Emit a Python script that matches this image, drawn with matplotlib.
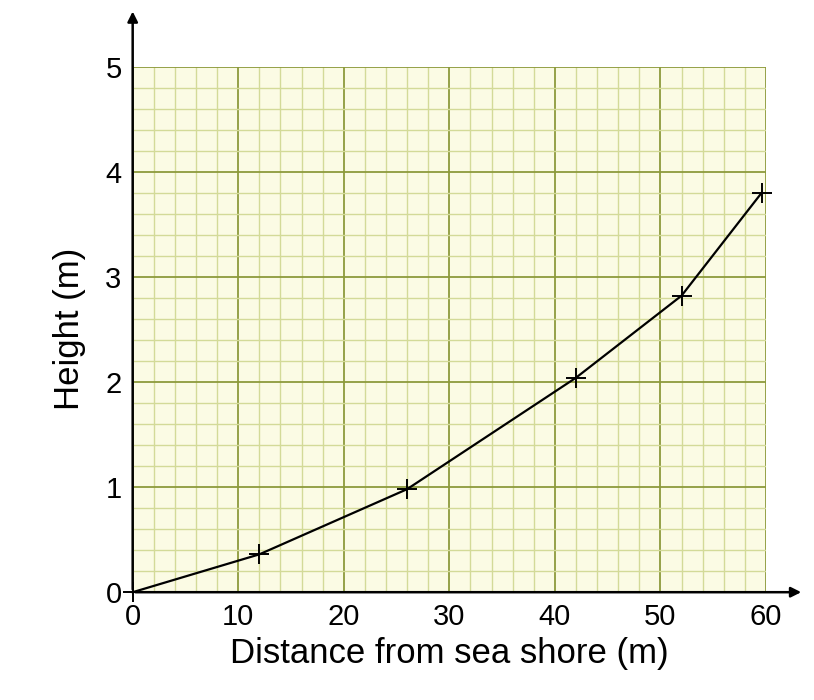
import numpy as np
import matplotlib.pyplot as plt

plt.rcParams['font.family'] = ['Liberation Sans', 'DejaVu Sans']

distance = [0, 12, 26, 42, 52, 59.6]
height = [0, 0.36, 0.98, 2.04, 2.82, 3.8]
xticks = [0, 10, 20, 30, 40, 50, 60]
yticks = [0, 1, 2, 3, 4, 5]

fig = plt.figure(figsize=(8.14, 7), dpi=100)
ax = fig.add_axes([0.163, 0.154, 0.778, 0.751])
ax.set_facecolor('#fbfbe4')
ax.set_xlim(0, 60)
ax.set_ylim(0, 5)

# paper grid: minor every 2 m / 0.2 m, major every 10 m / 1 m
for x in np.arange(0, 61, 2):
    major = x % 10 == 0
    ax.axvline(x, color='#8d9a3c' if major else '#d3da98', lw=1.3 if major else 1.0, zorder=1)
for y in np.arange(0, 5.01, 0.2):
    major = abs(y - round(y)) < 1e-6
    ax.axhline(y, color='#8d9a3c' if major else '#d3da98', lw=1.3 if major else 1.0, zorder=1)

ax.plot(distance, height, color='black', lw=1.6, marker='+', markersize=14,
        markeredgewidth=1.4, zorder=3, clip_on=False)

for s in ax.spines.values():
    s.set_visible(False)
ax.annotate('', xy=(1.06, 0), xytext=(0, 0), xycoords='axes fraction',
            arrowprops=dict(arrowstyle='-|>', color='black', lw=1.8, mutation_scale=15))
ax.annotate('', xy=(0, 1.11), xytext=(0, 0), xycoords='axes fraction',
            arrowprops=dict(arrowstyle='-|>', color='black', lw=1.8, mutation_scale=15))

ax.set_xticks(xticks)
ax.set_yticks(yticks)
ax.tick_params(length=0, labelsize=21, pad=8)
ax.set_xlabel('Distance from sea shore (m)', fontsize=25, labelpad=4)
ax.set_ylabel('Height (m)', fontsize=25, labelpad=14)

fig.savefig('out.png')
